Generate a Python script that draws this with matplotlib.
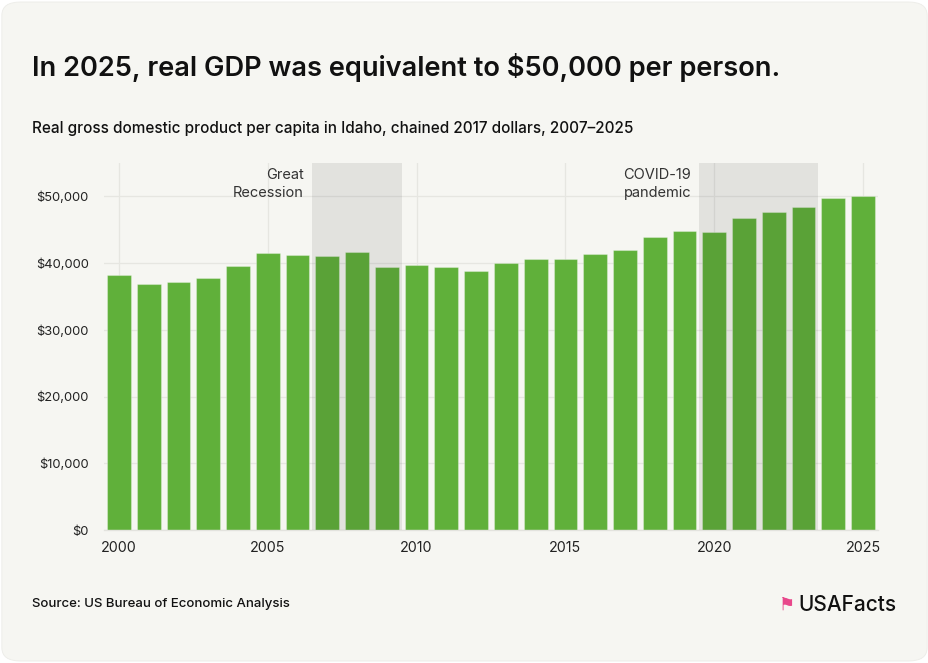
import matplotlib
matplotlib.use("Agg")
import matplotlib.pyplot as plt
from matplotlib.patches import FancyBboxPatch

years = list(range(2000, 2026))
gdp_per_capita = [38200, 36800, 37100, 37700, 39500, 41500, 41200, 41000, 41600, 39400,
                  39700, 39400, 38800, 40000, 40600, 40600, 41300, 41900, 43900, 44800,
                  44600, 46700, 47600, 48400, 49700, 50000]
yticks = [0, 10000, 20000, 30000, 40000, 50000]
ytick_labels = ["$0", "$10,000", "$20,000", "$30,000", "$40,000", "$50,000"]
xticks = [2000, 2005, 2010, 2015, 2020, 2025]
shade_periods = [(2006.5, 2009.5, "Great\nRecession"), (2019.5, 2023.5, "COVID-19\npandemic")]

title = "In 2025, real GDP was equivalent to $50,000 per person."
subtitle = "Real gross domestic product per capita in Idaho, chained 2017 dollars, 2007\u20132025"
source = "Source: US Bureau of Economic Analysis"

plt.rcParams['font.family'] = ['Inter', 'DejaVu Sans']

W, H = 929, 663
fig = plt.figure(figsize=(W/100, H/100), dpi=100)
fig.patch.set_facecolor("white")
card = FancyBboxPatch((0.002, 0.003), 0.996, 0.994, boxstyle="round,pad=0,rounding_size=0.02",
                      transform=fig.transFigure, facecolor="#f6f6f2", edgecolor="#ececE8", lw=0.6, zorder=-10)
fig.patches.append(card)

ax = fig.add_axes([104/W, 1-530/H, (878-104)/W, (530-163)/H])
ax.set_facecolor("none")
ax.bar(years, gdp_per_capita, width=0.8, color="#60b03a", edgecolor=(1, 1, 1, 0.3), linewidth=0.8, zorder=2)
for x0, x1, label in shade_periods:
    ax.axvspan(x0, x1, color="#1e1e1e", alpha=0.09, lw=0, zorder=3)
    ax.text(x0 - 0.28, 54300, label, ha="right", va="top", fontsize=10.5, color="#333333",
            linespacing=1.35, zorder=4)

ax.set_xlim(1999.5, 2025.5)
ax.set_ylim(0, 55000)
ax.set_yticks(yticks)
ax.set_yticklabels(ytick_labels)
ax.set_xticks(xticks)
ax.set_xticklabels([str(x) for x in xticks])
ax.grid(True, color="#e6e6e1", lw=0.9, zorder=0)
ax.set_axisbelow(True)
for s in ["top", "right", "left"]:
    ax.spines[s].set_visible(False)
ax.spines["bottom"].set_color("#e3e3de")
ax.spines["bottom"].set_linewidth(1.0)
ax.tick_params(axis="both", length=0, colors="#222222")
ax.tick_params(axis="y", pad=11, labelsize=9.3)
ax.tick_params(axis="x", pad=8, labelsize=10.3)

fig.text(32/W, 1-68/H, title, fontsize=19.6, fontweight="semibold", color="#111111", va="center", ha="left")
fig.text(32/W, 1-128/H, subtitle, fontsize=11, fontweight="medium", color="#111111", va="center", ha="left")
fig.text(32/W, 1-604/H, source, fontsize=9.5, fontweight="medium", color="#111111", va="center", ha="left")
fig.text(897/W, 1-605/H, "USAFacts", fontsize=15, fontweight="medium", color="#111111", va="center", ha="right")
fig.text(779/W, 1-605/H, "\u2691", fontsize=13, color="#e8478b", va="center", ha="left")

fig.savefig("out.png", dpi=100, facecolor=fig.get_facecolor())
